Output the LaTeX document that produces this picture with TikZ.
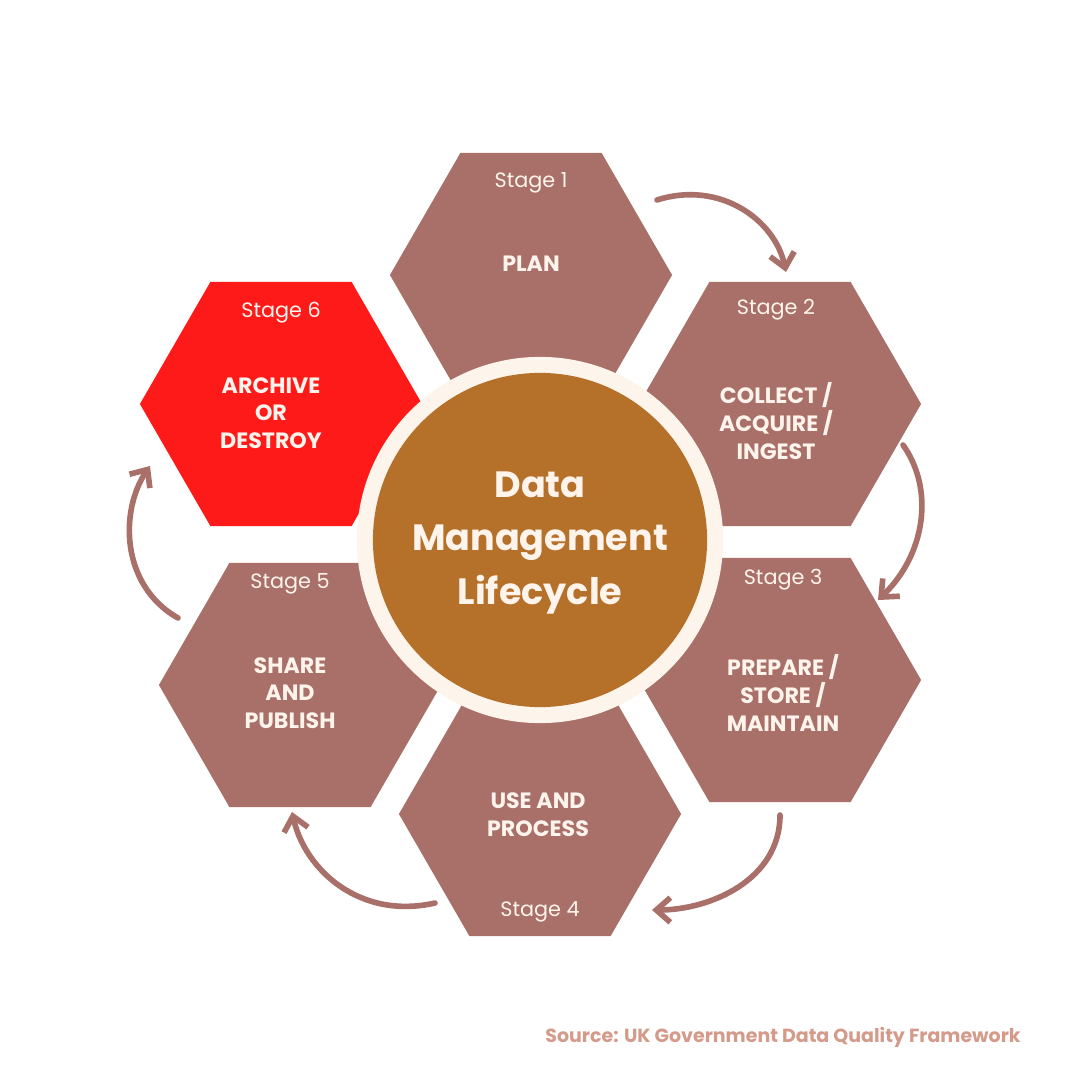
\documentclass[tikz,border=0pt]{standalone}
\usepackage{fontspec}
\setmainfont{Poppins}
\usetikzlibrary{shapes.geometric,arrows.meta}
\definecolor{hexc}{HTML}{A87068}
\definecolor{redc}{HTML}{FF1A1A}
\definecolor{circc}{HTML}{B5702A}
\definecolor{ringc}{HTML}{FDF5EC}
\definecolor{srcc}{HTML}{D49A8A}
\definecolor{txtc}{HTML}{FFF4EC}
\begin{document}
\begin{tikzpicture}[x=0.01cm,y=-0.01cm,
  hexbox/.style={regular polygon,regular polygon sides=6,minimum size=2.82cm,inner sep=0pt,fill=hexc,draw=none},
  stagelbl/.style={text=txtc,font=\fontsize{5.9pt}{7pt}\selectfont},
  mainlbl/.style={text=txtc,font=\fontsize{6.3pt}{7.9pt}\selectfont\bfseries,align=center},
  cyc/.style={draw=hexc,line width=1.6pt,line cap=round,-{Straight Barb[length=4pt,width=7pt,line width=1.6pt]}}]
\useasboundingbox[fill=white] (0,0) rectangle (1080,1080);
\node[hexbox] (h1) at (531,275) {};
\node[hexbox] (h2) at (780,404) {};
\node[hexbox] (h3) at (780,680) {};
\node[hexbox] (h4) at (540,814) {};
\node[hexbox] (h5) at (300,685) {};
\node[hexbox,fill=redc] (h6) at (281,404) {};
\node[circle,fill=ringc,minimum size=3.66cm,inner sep=0pt] (ring) at (540,540) {};
\node[circle,fill=circc,minimum size=3.34cm,inner sep=0pt] (core) at (540,540) {};
\node[text=txtc,font=\fontsize{10.4pt}{15.3pt}\selectfont\bfseries,align=center] (title) at (540,543) {Data\\Management\\Lifecycle};
\node[stagelbl] (s1) at (531,183) {Stage 1};
\node[mainlbl] (l1) at (531,264) {PLAN};
\node[stagelbl] (s2) at (776,310) {Stage 2};
\node[mainlbl] (l2) at (776,421) {COLLECT /\\ACQUIRE /\\INGEST};
\node[stagelbl] (s3) at (783,580) {Stage 3};
\node[mainlbl] (l3) at (783,693) {PREPARE /\\STORE /\\MAINTAIN};
\node[stagelbl] (s4) at (540,912) {Stage 4};
\node[mainlbl] (l4) at (538,815) {USE AND\\PROCESS};
\node[stagelbl] (s5) at (290,584) {Stage 5};
\node[mainlbl] (l5) at (290,693) {SHARE\\AND\\PUBLISH};
\node[stagelbl] (s6) at (281,313) {Stage 6};
\node[mainlbl] (l6) at (271,413) {ARCHIVE\\OR\\DESTROY};
\node[text=srcc,font=\fontsize{5.4pt}{6pt}\selectfont\bfseries] (src) at (783,1037) {Source: UK Government Data Quality Framework};
\coordinate (a1s) at (657,200); \coordinate (a1e) at (786,272);
\coordinate (a2s) at (903,445); \coordinate (a2e) at (878,600);
\coordinate (a3s) at (780,815); \coordinate (a3e) at (652,910);
\coordinate (a4s) at (435,903); \coordinate (a4e) at (292,812);
\coordinate (a5s) at (178,618); \coordinate (a5e) at (150,466);
\draw[cyc] (a1s) .. controls (720,180) and (775,220) .. (a1e);
\draw[cyc] (a2s) .. controls (935,490) and (925,555) .. (a2e);
\draw[cyc] (a3s) .. controls (780,880) and (710,910) .. (a3e);
\draw[cyc] (a4s) .. controls (360,920) and (305,870) .. (a4e);
\draw[cyc] (a5s) .. controls (120,585) and (120,510) .. (a5e);
\end{tikzpicture}
\end{document}
